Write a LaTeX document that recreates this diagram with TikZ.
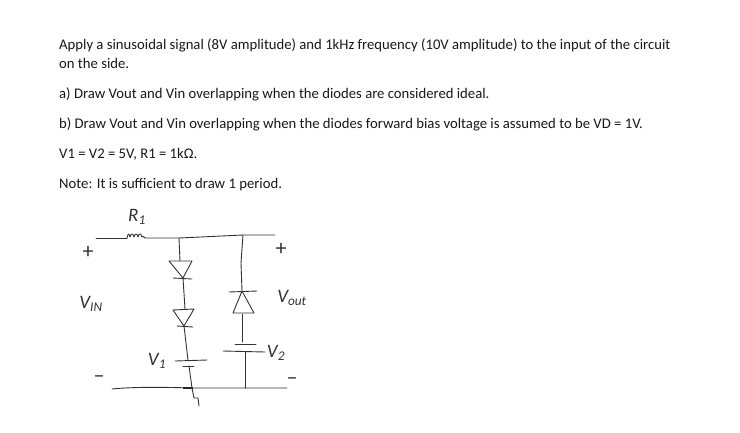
\documentclass[tikz,border=0pt]{standalone}
\usepackage{fontspec}
\setmainfont{Carlito}
\usepackage{tikz}
\usetikzlibrary{calc}

\tikzset{
  wire/.style={line width=0.9,black!80,line cap=round,line join=round},
  question/.style={anchor=base west,inner sep=0,font=\fontsize{14.7}{18}\selectfont,text=black!90},
  pen/.style={inner sep=0,font=\fontsize{19}{20}\itshape\selectfont,text=black!80},
  penmark/.style={inner sep=0,font=\fontsize{22}{22}\selectfont,text=black!80}
}

\begin{document}
\begin{tikzpicture}[x=1pt,y=-1pt]

\useasboundingbox (0,0) rectangle (740,432);
\fill [white] (0,0) rectangle (740,432);

\node [question] (line1) at (59,49) {Apply a sinusoidal signal (8V amplitude) and 1kHz frequency (10V amplitude) to the input of the circuit};
\node [question] (line2) at (59,68) {on the side.};
\node [question] (line3) at (59,98) {a) Draw Vout and Vin overlapping when the diodes are considered ideal.};
\node [question] (line4) at (59,128) {b) Draw Vout and Vin overlapping when the diodes forward bias voltage is assumed to be VD = 1V.};
\node [question] (line5) at (59,158) {V1 = V2 = 5V, R1 = 1kΩ.};
\node [question] (line6) at (59,188) {Note: It is sufficient to draw 1 period.};

\coordinate (inTop) at (96,238);
\coordinate (resA) at (127,238);
\coordinate (resB) at (145,238);
\coordinate (nodeA) at (179,238);
\coordinate (nodeB) at (243,235);
\coordinate (outTop) at (275,235);
\coordinate (inBot) at (112,389);
\coordinate (nodeC) at (192,388);
\coordinate (nodeD) at (245,388);
\coordinate (outBot) at (287,388);

% top and bottom rails
\draw [wire] (inTop) -- (resA);
\draw [wire] (resA) .. controls (128,233) and (129,233) .. (130,237) .. controls (131,233) and (133,233) .. (134,237) .. controls (135,233) and (137,233) .. (138,237) .. controls (139,233) and (141,233) .. (142,237) .. controls (143,235) and (144,237) .. (resB);
\draw [wire] (resB) -- (nodeA) -- (nodeB) -- (outTop);
\draw [wire] (inBot) .. controls (130,387) and (160,387) .. (nodeC) -- (nodeD) -- (outBot);
\draw [line width=2,black!85] (183,388) -- (193,388);

% left branch
\draw [wire] (nodeA) -- (180,261);
\draw [wire] (169,261) -- (192,261) -- (183,278) -- cycle;
\draw [wire] (173,278) -- (192,279);
\draw [wire] (183,278) -- (185,309);
\draw [wire] (173,310) -- (194,309) -- (184,326) -- cycle;
\draw [wire] (177,326) -- (193,327);
\draw [wire] (184,326) -- (188,360);
\draw [wire] (175,361) -- (207,360);
\draw [wire] (183,366) -- (194,366);
\draw [wire] (189,366) -- (nodeC);
\draw [wire] (nodeC) -- (194,398) -- (198,398) -- (199,406);

% right branch
\draw [wire] (nodeB) -- (241,263) -- (242,291);
\draw [wire] (229,292) -- (257,291);
\draw [wire] (242,291) -- (254,313) -- (233,313) -- cycle;
\draw [wire] (242,314) -- (242,342);
\draw [wire] (235,344) -- (256,344);
\draw [wire] (223,351) -- (265,352);
\draw [wire] (245,352) -- (nodeD);

\node [pen] (labelR) at (137,217) {R\textsubscript{1}};
\node [pen] (labelIn) at (91,304) {V\textsubscript{IN}};
\node [pen] (labelOut) at (292,298) {V\textsubscript{out}};
\node [pen] (labelA) at (157,361) {V\textsubscript{1}};
\node [pen] (labelB) at (276,353) {V\textsubscript{2}};
\node [penmark] (plusIn) at (88,252) {+};
\node [penmark] (plusOut) at (281,249) {+};
\node [penmark] (minusIn) at (99,379) {–};
\node [penmark] (minusOut) at (292,381) {–};

\end{tikzpicture}
\end{document}
